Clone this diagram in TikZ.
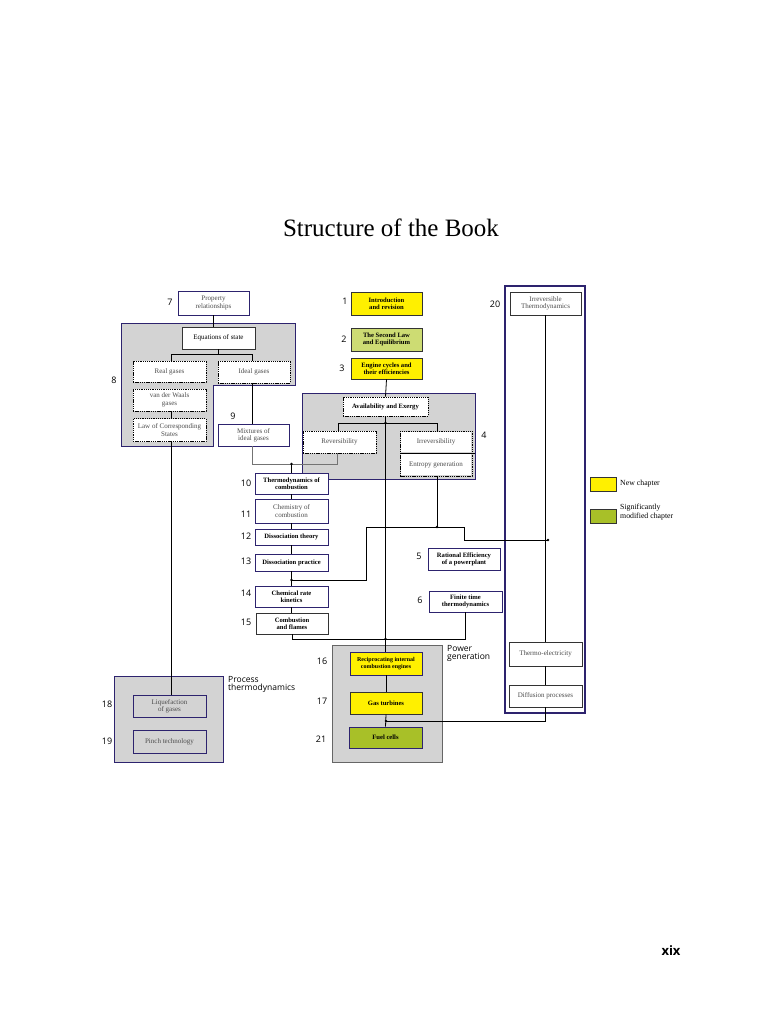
\documentclass[tikz,border=0pt]{standalone}
\usepackage{fontspec}
\setmainfont{Liberation Serif}
\newfontfamily\numfont{Open Sans}
\definecolor{navy}{RGB}{45,35,110}
\definecolor{boxgray}{RGB}{211,211,211}
\definecolor{newyellow}{RGB}{255,240,0}
\definecolor{lightgreen}{RGB}{205,220,115}
\definecolor{modgreen}{RGB}{168,192,40}
\begin{document}
\begin{tikzpicture}[x=1pt,y=-1pt,
  sz/.style 2 args={minimum width=#1, minimum height=#2},
  box/.style={draw=navy, fill=white, line width=0.9pt, inner sep=0pt, align=center, text=black!70, font=\fontsize{7}{7.4}\selectfont},
  bbox/.style={box, text=black, font=\fontsize{6.6}{7.1}\selectfont\bfseries},
  blackbox/.style={box, draw=black!80},
  dotbox/.style={box, draw=black, dash pattern=on 1.3pt off 0.9pt},
  ybox/.style={bbox, fill=newyellow, draw=black!80},
  num/.style={font=\numfont\fontsize{9}{9}\selectfont, inner sep=0pt},
  side/.style={font=\numfont\fontsize{8.5}{8.5}\selectfont, inner sep=0pt, align=left, anchor=north west},
  conn/.style={draw=black, line width=0.8pt},
  gconn/.style={draw=black!55, line width=0.9pt},
  gbg/.style={fill=boxgray, draw=navy, line width=1pt},
  jdot/.style={circle, fill=black, inner sep=0pt, minimum size=2.6pt}
]
\useasboundingbox (0,0) rectangle (768,1024);

% title
\node[font=\fontsize{25}{29}\selectfont] (title) at (391,228) {Structure of the Book};

% background groups
\draw[gbg] (121,323) -- (295,323) -- (295,385) -- (213,385) -- (213,446) -- (121,446) -- cycle;
\draw[gbg] (302,393) rectangle (475,479);
\draw[navy, line width=1.3pt] (505,286) rectangle (585,713);
\draw[gbg, draw=black!60] (332,645) rectangle (442,762);
\draw[gbg] (114,676) rectangle (223,762);

% group 7/8/9
\node[box,sz={71}{24}] (n7) at (213.5,303) {Property\\relationships};
\node[blackbox,sz={73}{22},text=black] (eq) at (218.5,338) {Equations of state};
\node[dotbox,sz={73}{21}] (real) at (169.5,371.5) {Real gases};
\node[dotbox,sz={72}{22}] (ideal) at (254,372) {Ideal gases};
\node[dotbox,sz={73}{22}] (vdw) at (169.5,400) {van der Waals\\gases};
\node[dotbox,sz={73}{23}] (law) at (169.5,430) {Law of Corresponding\\States};
\node[box,sz={71}{22}] (mix) at (253.5,435) {Mixtures of\\ideal gases};

% yellow chapters
\node[ybox,sz={71}{23}] (n1) at (386.5,303.5) {Introduction\\and revision};
\node[ybox,sz={71}{23},fill=lightgreen] (n2) at (386.5,339.5) {The Second Law\\and Equilibrium};
\node[ybox,sz={71}{21}] (n3) at (386.5,368.5) {Engine cycles and\\their efficiencies};

% group 4
\node[dotbox,sz={85}{19},text=black,font=\fontsize{6.6}{7.1}\selectfont\bfseries] (avail) at (385.5,406.5) {Availability and Exergy};
\node[dotbox,sz={73}{22}] (rev) at (339.5,442) {Reversibility};
\node[box,draw=none,sz={70}{20}] (irr) at (436,442) {Irreversibility};
\node[box,draw=none,sz={70}{21}] (ent) at (436,464.5) {Entropy generation};
\draw[black, line width=0.9pt, dash pattern=on 1.3pt off 0.9pt] (400,431) rectangle (472,476);
\draw[conn] (400,453) -- (475,453);

% combustion column
\node[bbox,sz={73}{21}] (n10) at (291.5,483.5) {Thermodynamics of\\combustion};
\node[box,sz={73}{24}] (n11) at (291.5,511) {Chemistry of\\combustion};
\node[bbox,sz={73}{16}] (n12) at (291.5,537) {Dissociation theory};
\node[bbox,sz={73}{17}] (n13) at (291.5,562.5) {Dissociation practice};
\node[bbox,sz={73}{21}] (n14) at (291.5,596.5) {Chemical rate\\kinetics};
\node[bbox,sz={72}{21},draw=black!80] (n15) at (292,623.5) {Combustion\\and flames};

% 5, 6
\node[bbox,sz={72}{22}] (n5) at (464,559) {Rational Efficiency\\of a powerplant};
\node[bbox,sz={73}{21}] (n6) at (465.5,601.5) {Finite time\\thermodynamics};

% 20 group
\node[blackbox,sz={71}{23}] (n20) at (545.5,303.5) {Irreversible\\Thermodynamics};
\node[blackbox,sz={73}{24}] (te) at (545.5,654) {Thermo-electricity};
\node[blackbox,sz={73}{22}] (diff) at (545.5,696) {Diffusion processes};

% power generation
\node[ybox,sz={72}{23},draw=navy,font=\fontsize{6}{6.6}\selectfont\bfseries] (n16) at (386,663.5) {Reciprocating internal\\combustion engines};
\node[ybox,sz={72}{22}] (n17) at (386,703) {Gas turbines};
\node[ybox,sz={73}{21},fill=modgreen,draw=navy] (n21) at (385.5,737.5) {Fuel cells};

% process thermodynamics
\node[box,sz={73}{22},fill=boxgray] (n18) at (169.5,706) {Liquefaction\\of gases};
\node[box,sz={73}{23},fill=boxgray] (n19) at (169.5,741.5) {Pinch technology};

% chapter numbers
\node[num] (l7) at (170,302) {7};
\node[num] (l8) at (114,380) {8};
\node[num] (l9) at (233,416) {9};
\node[num] (l1) at (345,301) {1};
\node[num] (l2) at (344,339) {2};
\node[num] (l3) at (342,368) {3};
\node[num] (l4) at (484,435) {4};
\node[num] (l20) at (495,304) {20};
\node[num] (l10) at (246,483) {10};
\node[num] (l11) at (246,514) {11};
\node[num] (l12) at (246,536) {12};
\node[num] (l13) at (246,561) {13};
\node[num] (l14) at (246,593) {14};
\node[num] (l15) at (246,622) {15};
\node[num] (l5) at (419,556) {5};
\node[num] (l6) at (420,600) {6};
\node[num] (l16) at (322,661) {16};
\node[num] (l17) at (322,701) {17};
\node[num] (l21) at (321,739) {21};
\node[num] (l18) at (107,704) {18};
\node[num] (l19) at (107,741) {19};

\node[side] (pg) at (447,645) {Power\\generation};
\node[side] (pt) at (228,676) {Process\\thermodynamics};

% legend
\draw[black!80, fill=newyellow, line width=0.8pt] (590,477) rectangle (616,491);
\draw[black!80, fill=modgreen, line width=0.8pt] (590,509) rectangle (616,523);
\node[anchor=west, inner sep=0pt, font=\fontsize{7.8}{8.2}\selectfont] (lg1) at (620,484) {New chapter};
\node[anchor=west, inner sep=0pt, align=left, font=\fontsize{7.8}{8.2}\selectfont] (lg2) at (620,512) {Significantly\\modified chapter};

% page number
\node[font=\numfont\bfseries\fontsize{13}{13}\selectfont] (pn) at (671,951) {xix};

% connectors: group 7/8/9
\draw[conn] (n7.south) -- (n7.south |- eq.north);
\draw[conn] (eq.south) -- (eq.south |- 0,354);
\coordinate (j8a) at (171,354);
\coordinate (j8b) at (252,354);
\draw[conn] (j8a) -- (j8b);
\draw[conn] (j8a) -- (j8a |- real.north);
\draw[conn] (j8b) -- (j8b |- ideal.north);
\draw[conn] (vdw.south -| j8a) -- (law.north -| j8a);
\draw[conn] (law.south -| j8a) -- (n18.north -| j8a);
\draw[conn] (ideal.south -| j8b) -- (mix.north -| j8b);
\coordinate (j9) at (252,464);
\coordinate (jrev) at (337,464);
\draw[gconn] (mix.south -| j9) -- (j9) -- (jrev) -- (rev.south -| jrev);
\draw[conn] (n10.north |- j9) -- (n10.north);
\node[jdot] (d1) at (n10.north |- j9) {};

% group 4
\draw[conn] (n3.south) -- (avail.north);
\coordinate (j4) at (avail.south |- 0,423);
\draw[conn] (avail.south) -- (avail.south |- n16.north);
\node[jdot] (d2) at (j4) {};
\draw[conn] (338,423) -- (437,423);
\draw[conn] (338,423) -- (rev.north -| 338,0);
\draw[conn] (437,423) -- (437,431);

% entropy path
\coordinate (je) at (437,527);
\draw[conn] (437,476) -- (je);
\node[jdot] (d3) at (je) {};
\coordinate (jl) at (366,527);
\coordinate (jr) at (464,527);
\draw[conn] (jl) -- (jr);
\draw[conn] (jl) -- (366,580) -- (n14.north |- 0,580) -- (n14.north);
\node[jdot] (d4) at (n14.north |- 0,580) {};
\draw[conn] (jr) -- (464,540) -- (548,540);
\node[jdot] (d5) at (548,540) {};

% combustion column
\draw[conn] (n10.south) -- (n11.north);
\draw[conn] (n11.south) -- (n12.north);
\draw[conn] (n12.south) -- (n13.north);
\draw[conn] (n13.south) -- (n14.north);
\draw[conn] (n14.south) -- (n15.north -| n14.south);
\coordinate (jb) at (387,639);
\draw[conn] (n15.south) -- (n15.south |- jb) -- (n6.south |- jb) -- (n6.south);
\node[jdot] (d6) at (avail.south |- jb) {};

% 20 column
\draw[conn] (n20.south) -- (te.north);
\draw[conn] (te.south) -- (diff.north);
\coordinate (jf) at (n17.south |- 0,721);
\draw[conn] (diff.south) -- (diff.south |- jf) -- (jf);

% power generation
\draw[conn] (n16.south) -- (n17.north);
\draw[conn] (n17.south) -- (n21.north);
\node[jdot] (d7) at (jf) {};
\end{tikzpicture}
\end{document}
